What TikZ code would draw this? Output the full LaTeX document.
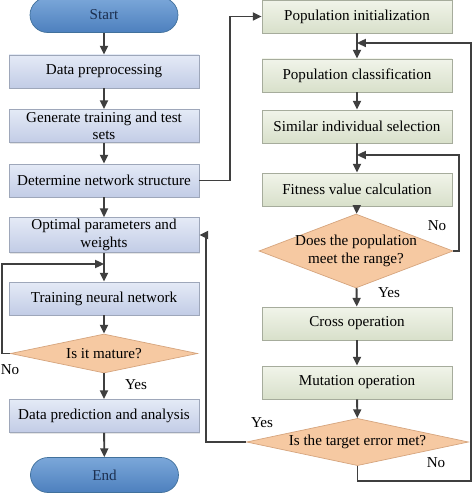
\documentclass[tikz,border=0pt]{standalone}
\usepackage{fontspec}
\setmainfont{Liberation Serif}
\usetikzlibrary{shapes.geometric,arrows.meta,positioning,shadows}

\definecolor{lineGray}{HTML}{3F3F3F}
\definecolor{blueTop}{HTML}{E4EAF6}
\definecolor{blueBot}{HTML}{C2CCE6}
\definecolor{blueEdge}{HTML}{9EA7BA}
\definecolor{greenTop}{HTML}{F1F4EA}
\definecolor{greenBot}{HTML}{D8E0CA}
\definecolor{greenEdge}{HTML}{A6AC9C}
\definecolor{orangeFill}{HTML}{F6C9A2}
\definecolor{orangeEdge}{HTML}{D6A57E}
\definecolor{termTop}{HTML}{7BA7D9}
\definecolor{termBot}{HTML}{4D80BE}
\definecolor{termEdge}{HTML}{41719C}
\definecolor{termText}{HTML}{1C2F4F}

\begin{document}
\begin{tikzpicture}[x=0.02cm,y=-0.02cm,
    font=\fontsize{8.6}{10}\selectfont,
    flow/.style={draw=lineGray,line width=1.1pt},
    flow arrow/.style={flow,-{Triangle[length=5pt,width=4.5pt]}},
    blue box/.style={rectangle,draw=blueEdge,top color=blueTop,bottom color=blueBot,
                     minimum width=3.8cm,minimum height=0.66cm,align=center,inner sep=1pt,
                     drop shadow={opacity=0.2,shadow xshift=0.7pt,shadow yshift=-0.7pt}},
    green box/.style={rectangle,draw=greenEdge,top color=greenTop,bottom color=greenBot,
                      minimum width=3.8cm,minimum height=0.66cm,align=center,inner sep=1pt,
                      drop shadow={opacity=0.2,shadow xshift=0.7pt,shadow yshift=-0.7pt}},
    decision/.style={diamond,draw=orangeEdge,fill=orangeFill,inner sep=1pt,align=center},
    terminal/.style={rectangle,rounded corners=0.35cm,draw=termEdge,top color=termTop,
                     bottom color=termBot,minimum width=2.96cm,minimum height=0.7cm,text=termText}]

\fill[white] (0,0) rectangle (474,496);
\useasboundingbox (0,0) rectangle (474,496);

% left column
\node[terminal] (start) at (104,15) {Start};
\node[blue box] (pre) at (104,71.5) {Data preprocessing};
\node[blue box] (gen) at (104,126) {Generate training and test\\sets};
\node[blue box] (det) at (104,180.5) {Determine network structure};
\node[blue box] (opt) at (104,235) {Optimal parameters and\\weights};
\node[blue box] (train) at (104,298.5) {Training neural network};
\node[decision,minimum width=3.74cm,minimum height=0.78cm,aspect=4.8] (mature) at (104,353.5) {Is it mature?};
\node[blue box] (pred) at (104,416) {Data prediction and analysis};
\node[terminal] (end) at (104.5,475) {End};

% right column
\node[green box] (init) at (357,16.5) {Population initialization};
\node[green box] (cls) at (357,75.5) {Population classification};
\node[green box] (sim) at (357,126.5) {Similar individual selection};
\node[green box] (fit) at (357,189.5) {Fitness value calculation};
\node[decision,inner xsep=0pt,inner ysep=-2.5pt,minimum width=3.88cm,minimum height=1.48cm,aspect=2.62] (range) at (356,251) {Does the population\\meet the range?};
\node[green box] (cross) at (357,323.5) {Cross operation};
\node[green box] (mut) at (357,382.5) {Mutation operation};
\node[decision,minimum width=3.78cm,minimum height=0.8cm,aspect=4.7] (target) at (357.5,442) {Is the target error met?};

\coordinate (trainIn) at (104,264);
\coordinate (clsIn) at (357,43);
\coordinate (fitIn) at (357,155);

\foreach \a/\b in {start/pre,pre/gen,gen/det,det/opt,opt/train,train/mature,mature/pred,pred/end,
                   init/cls,cls/sim,sim/fit,fit/range,range/cross,cross/mut,mut/target}
  \draw[flow arrow] (\a) -- (\b);

% loops
\draw[flow arrow] (det.east) -- ++(31,0) |- (init.west);
\draw[flow arrow] (mature.west) -- ++(-8.5,0) |- (trainIn);
\draw[flow arrow] (range.east) -- ++(6,0) |- (fitIn);
\draw[flow arrow] (target.south) -- ++(0,15) -- ++(113.5,0) |- (clsIn);
\draw[flow arrow] (target.west) -- ++(-40,0) |- (opt.east);

% labels
\node (noMature) at (10,370) {No};
\node (yesMature) at (136,385) {Yes};
\node (noRange) at (437,226) {No};
\node (yesRange) at (389,293) {Yes};
\node (yesTarget) at (262,423) {Yes};
\node (noTarget) at (436,463) {No};

\end{tikzpicture}
\end{document}
